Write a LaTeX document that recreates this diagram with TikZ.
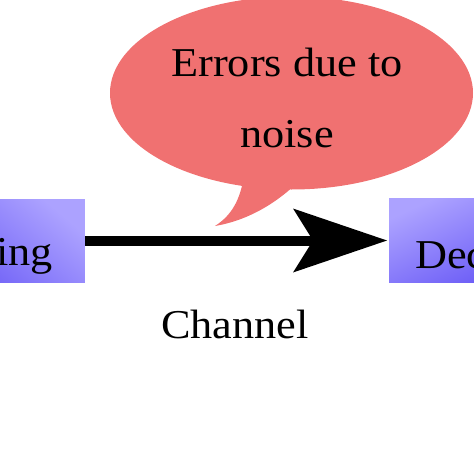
\documentclass[tikz,border=0pt]{standalone}
\usepackage{fontspec}
\setmainfont{Liberation Serif}[FakeStretch=1.08]
\usetikzlibrary{arrows.meta,shapes.geometric,positioning}

\definecolor{bubblered}{RGB}{240,113,113}
\definecolor{boxlight}{RGB}{172,162,255}
\definecolor{boxdark}{RGB}{98,82,245}

\begin{document}
\begin{tikzpicture}[x=1pt,y=-1pt,
    every node/.style={font=\fontsize{41}{71}\selectfont, inner sep=0pt},
    codebox/.style={rectangle, text width=120pt, top color=boxlight, bottom color=boxdark},
    bubble/.style={ellipse, fill=bubblered, minimum width=363pt, minimum height=193pt},
    channelarrow/.style={line width=10pt, -{Stealth[length=94pt, width=64pt, inset=20pt, line width=0pt]}}]
      \clip (0,0) rectangle (474,474);
      % blocks
      \node [codebox, shading angle=-40, anchor=east, align=right, inner xsep=32pt,
             text height=66pt, text depth=17pt] (enc) at (85,240.5) {ing};
      \node [codebox, shading angle=25, anchor=west, align=left, inner xsep=26pt,
             text height=70pt, text depth=14pt] (dec) at (389,240.5) {Dec};
      \draw [channelarrow, shorten >=2pt] (enc.east) -- (dec.west);
      \node [anchor=base] (chan) at (235,338) {Channel};
      % speech bubble
      \node [bubble] (cloud) at (291.5,93) {};
      \fill [bubblered] (244,176) .. controls (240,200) and (232,215) .. (215,226)
            .. controls (245,221) and (276,205) .. (302,178) -- cycle;
      \node [align=center] (noise) at ([xshift=-4.5pt,yshift=-5pt]cloud.center) {Errors due to\\noise};
\end{tikzpicture}
\end{document}
